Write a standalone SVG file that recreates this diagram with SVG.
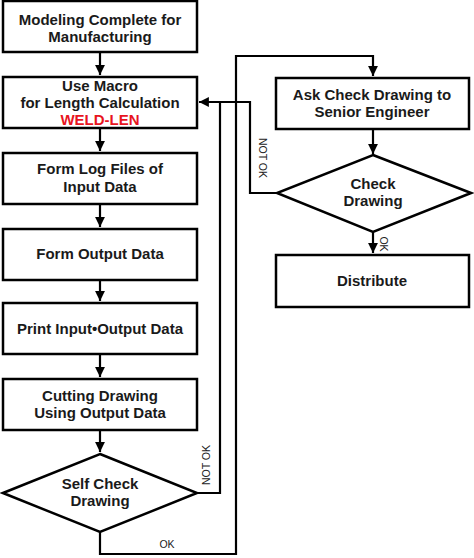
<svg xmlns="http://www.w3.org/2000/svg" width="474" height="558" viewBox="0 0 474 558">
<defs>
<marker id="ah" viewBox="0 0 10 10" refX="10" refY="5" markerWidth="4.5" markerHeight="4.5" orient="auto" markerUnits="strokeWidth">
<path d="M0,0 L10,5 L0,10 z" fill="#000"/>
</marker>
<style>
.box{fill:#fff;stroke:#000;stroke-width:2.5}
.t{font-family:"Liberation Sans",Arial,sans-serif;font-weight:bold;font-size:15px;text-anchor:middle;fill:#1a1a1a}
.red{fill:#e8141e}
.c{fill:none;stroke:#000;stroke-width:2.2}
.a{marker-end:url(#ah)}
.lbl{font-family:"Liberation Sans",Arial,sans-serif;font-size:10.5px;fill:#222;text-anchor:middle}
</style>
</defs>
<rect width="474" height="558" fill="#fff"/>
<g id="connectors">
<line class="c a" x1="100" y1="52" x2="100" y2="75"/>
<line class="c a" x1="100" y1="128" x2="100" y2="151"/>
<line class="c a" x1="100" y1="204" x2="100" y2="227"/>
<line class="c a" x1="100" y1="280" x2="100" y2="301"/>
<line class="c a" x1="100" y1="354" x2="100" y2="377"/>
<line class="c a" x1="100" y1="430" x2="100" y2="452"/>
<polyline class="c a" points="197,493 220,493 220,102 199,102"/>
<polyline class="c" points="277,193 250,193 250,102 220,102"/>
<polyline class="c a" points="100,532 100,554 236,554 236,56 373,56 373,76"/>
<line class="c a" x1="373" y1="129" x2="373" y2="154"/>
<line class="c a" x1="373" y1="232" x2="373" y2="253"/>
<text class="lbl" transform="translate(259,158) rotate(90)">NOT OK</text>
<text class="lbl" transform="translate(380,244) rotate(90)">OK</text>
<text class="lbl" transform="translate(210,465) rotate(-90)">NOT OK</text>
<text class="lbl" x="167" y="548">OK</text>
</g>
<g id="n1"><rect class="box" x="3" y="1" width="194" height="51"/>
<text class="t" x="100" y="25">Modeling Complete for</text>
<text class="t" x="100" y="42">Manufacturing</text></g>
<g id="n2"><rect class="box" x="3" y="77" width="194" height="51"/>
<text class="t" x="100" y="91">Use Macro</text>
<text class="t" x="100" y="108">for Length Calculation</text>
<text class="t red" x="100" y="125">WELD-LEN</text></g>
<g id="n3"><rect class="box" x="3" y="153" width="194" height="51"/>
<text class="t" x="100" y="174">Form Log Files of</text>
<text class="t" x="100" y="192">Input Data</text></g>
<g id="n4"><rect class="box" x="3" y="229" width="194" height="51"/>
<text class="t" x="100" y="259">Form Output Data</text></g>
<g id="n5"><rect class="box" x="3" y="303" width="194" height="51"/>
<text class="t" x="100" y="334">Print Input•Output Data</text></g>
<g id="n6"><rect class="box" x="3" y="379" width="194" height="51"/>
<text class="t" x="100" y="401">Cutting Drawing</text>
<text class="t" x="100" y="418">Using Output Data</text></g>
<g id="n7"><polygon class="box" points="100,454 197,493 100,532 3,493"/>
<text class="t" x="100" y="489">Self Check</text>
<text class="t" x="100" y="506">Drawing</text></g>
<g id="n8"><rect class="box" x="276" y="78" width="193" height="51"/>
<text class="t" x="372" y="100">Ask Check Drawing to</text>
<text class="t" x="372" y="117">Senior Engineer</text></g>
<g id="n9"><polygon class="box" points="373,155 471,193 373,232 277,193"/>
<text class="t" x="373" y="189">Check</text>
<text class="t" x="373" y="206">Drawing</text></g>
<g id="n10"><rect class="box" x="276" y="255" width="193" height="52"/>
<text class="t" x="372" y="286">Distribute</text></g>
</svg>
